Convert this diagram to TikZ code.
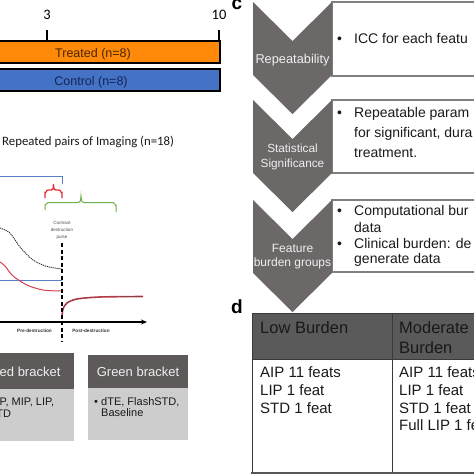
\documentclass[tikz,border=0pt]{standalone}
\usepackage{fontspec}
\setmainfont{Liberation Sans}
\newfontfamily\calfont{Carlito}
\usetikzlibrary{arrows.meta}
\definecolor{barorange}{HTML}{FF8A0A}
\definecolor{barblue}{HTML}{4472C4}
\definecolor{treattext}{HTML}{4A2600}
\definecolor{controltext}{HTML}{14245A}
\definecolor{bracketblue}{HTML}{5B7FC7}
\definecolor{bracketred}{HTML}{E0303A}
\definecolor{bracketgreen}{HTML}{6DB04A}
\definecolor{curvered}{HTML}{D8404E}
\definecolor{chev}{HTML}{6C6868}
\definecolor{hdrgray}{HTML}{5E5A5A}
\definecolor{bodygray}{HTML}{CDCDCD}
\definecolor{hdrtext}{HTML}{EFEFEF}
\definecolor{boxline}{HTML}{808080}
\definecolor{bodytext}{HTML}{1A1A1A}
\definecolor{tblhdr}{HTML}{5A5A5A}
\definecolor{tblline}{HTML}{3A3A3A}
\begin{document}
\begin{tikzpicture}[x=1pt,y=-1pt,
  txt/.style={inner sep=0pt, anchor=base west},
  ctxt/.style={inner sep=0pt, anchor=base},
  barline/.style={line width=2pt, draw=black},
  chevshape/.style={fill=chev},
  cbox/.style={draw=boxline, line width=1.2pt, fill=white},
  ctext/.style={txt, text=bodytext, font=\fontsize{14}{16}\selectfont},
  chevlabel/.style={ctxt, text=hdrtext},
  tiny/.style={ctxt, text=black!70, font=\fontsize{4.5}{5}\selectfont},
  tinybold/.style={ctxt, text=black!80, font=\bfseries\fontsize{4.7}{5}\selectfont},
  hdrlabel/.style={text=hdrtext, font=\fontsize{13}{15}\selectfont},
  bodylabel/.style={txt, text=bodytext, font=\fontsize{11}{12}\selectfont},
  tblhead/.style={txt, text=black!90, font=\fontsize{16.5}{19}\selectfont},
  tblbody/.style={txt, text=bodytext, font=\fontsize{15}{17}\selectfont},
  panellabel/.style={txt, font=\bfseries\fontsize{19}{21}\selectfont}
]
\useasboundingbox (0,0) rectangle (474,474);

% ---------- panel a ----------
\draw[line width=2pt] (47,30) -- (47,41);
\draw[line width=2pt] (219,30) -- (219,41);
\node[ctxt, font=\calfont\fontsize{14.5}{16}\selectfont] (lab3) at (47,19) {3};
\node[ctxt, font=\calfont\fontsize{14.5}{16}\selectfont] (lab10) at (219,19) {10};
\draw[barline, fill=barorange] (-5,41) rectangle (220,63);
\node[ctxt, text=treattext, font=\fontsize{12.5}{15}\selectfont] (treated) at (93,57) {Treated (n=8)};
\draw[barline, fill=barblue] (-5,69) rectangle (220,91);
\node[ctxt, text=controltext, font=\fontsize{12.5}{15}\selectfont] (control) at (91,85) {Control (n=8)};

% ---------- panel b ----------
\node[txt, font=\calfont\fontsize{12.8}{15}\selectfont, text=black!90] (title) at (2,145) {Repeated pairs of Imaging (n=18)};

% brackets
\draw[bracketblue, line width=1pt] (-2,176) -- (62,176) -- (62,184);
\draw[bracketred, line width=1.3pt] (45,198) -- (45,193) to[out=-90,in=180] (48,190) -- (51,190)
  to[out=0,in=-90] (53.5,184) to[out=-90,in=180] (56,190) -- (59,190) to[out=0,in=-90] (62,193) -- (62,198);
\draw[bracketgreen, line width=1pt] (45,210) -- (45,205) to[out=-90,in=180] (48,202.5) -- (78,202.5)
  to[out=0,in=-90] (81,196) to[out=-90,in=180] (84,202.5) -- (113,202.5) to[out=0,in=-90] (116,205.5) -- (116,212);

% pulse label
\node[tiny] (pulse1) at (62,224.5) {Contrast};
\node[tiny] (pulse2) at (62,231.5) {destruction};
\node[tiny] (pulse3) at (62,238.5) {pulse};

% curves
\draw[black!80, line width=0.9pt, dash pattern=on 1.2pt off 0.8pt]
  plot[smooth] coordinates {(0,228) (10,233) (20,247) (33,260) (47,266.5) (62,269)};
\draw[bracketblue, line width=0.9pt] (0,280) -- (62,280);
\draw[curvered, line width=1pt]
  plot[smooth] coordinates {(0,262) (5,266) (13,276) (27,285) (43,290) (62,291)};
\draw[curvered, line width=1.6pt]
  plot[smooth] coordinates {(62,318) (63,309) (67,303) (77,299) (100,297) (143,296.5)};
\draw[black!75, line width=0.8pt, dash pattern=on 1pt off 1pt]
  plot[smooth] coordinates {(62,318) (63,309) (67,303) (77,299) (100,297) (143,296.5)};

% axis and destruction line
\draw[line width=1.2pt, -{Stealth[length=6pt,width=5pt]}] (-2,322) -- (147,322);
\draw[line width=1.8pt, dash pattern=on 4pt off 2.5pt] (62,243) -- (62,342);
\node[tinybold] (pre) at (34.5,332.5) {Pre-destruction};
\node[tinybold] (post) at (91,332.5) {Post-destruction};

% bracket boxes
\fill[hdrgray] (-5,353) rectangle (74,389);
\fill[bodygray] (-5,389) rectangle (74,441);
\node[txt, hdrlabel] (redhdr) at (-0.5,376.5) {ed bracket};
\node[bodylabel] (redl1) at (-0.5,405.5) {P, MIP, LIP,};
\node[bodylabel] (redl2) at (-3.8,417) {TD};

\fill[hdrgray] (88,355) rectangle (188,388);
\fill[bodygray] (88,388) rectangle (188,440);
\node[ctxt, hdrlabel] (greenhdr) at (138,376) {Green bracket};
\node[bodylabel] (greenb) at (94,405) {\textbullet};
\node[bodylabel] (greenl1) at (101,405) {dTE, FlashSTD,};
\node[bodylabel] (greenl2) at (101,416.5) {Baseline};

% ---------- panel c ----------
\node[panellabel] (labc) at (231.5,9.5) {c};

\draw[cbox] (332,2) rectangle (482,76);
\draw[cbox] (332,100) rectangle (482,173);
\draw[cbox] (332,200) rectangle (482,272);

\fill[chevshape] (253,2) -- (292.5,41) -- (332,2) -- (332,75) -- (292.5,114) -- (253,75) -- cycle;
\fill[chevshape] (253,100) -- (292.5,139) -- (332,100) -- (332,173) -- (292.5,212) -- (253,173) -- cycle;
\fill[chevshape] (253,200) -- (292.5,239) -- (332,200) -- (332,273) -- (292.5,312) -- (253,273) -- cycle;

\node[chevlabel, font=\fontsize{12.8}{15}\selectfont] (rep) at (292.5,63) {Repeatability};
\node[chevlabel, font=\fontsize{11.8}{14}\selectfont] (stat1) at (292.5,152) {Statistical};
\node[chevlabel, font=\fontsize{11.8}{14}\selectfont] (stat2) at (292.5,167) {Significance};
\node[chevlabel, font=\fontsize{12}{14}\selectfont] (feat1) at (292.5,252) {Feature};
\node[chevlabel, font=\fontsize{12}{14}\selectfont] (feat2) at (292.5,266) {burden groups};

\node[ctext] (b1a) at (337,43) {\textbullet};
\node[ctext] (b1t) at (354,43) {ICC for each featu};

\node[ctext] (b2a) at (337,117.5) {\textbullet};
\node[ctext] (b2t1) at (354,117.5) {Repeatable param};
\node[ctext] (b2t2) at (354,137.5) {for significant, dura};
\node[ctext] (b2t3) at (354,157.5) {treatment.};

\node[ctext] (b3a) at (337,215) {\textbullet};
\node[ctext] (b3t1) at (354,215) {Computational bur};
\node[ctext] (b3t2) at (354,232) {data};
\node[ctext] (b3b) at (337,248.5) {\textbullet};
\node[ctext] (b3t3) at (354,248.5) {Clinical burden: de};
\node[ctext] (b3t4) at (354,263.5) {generate data};

% ---------- panel d ----------
\node[panellabel] (labd) at (231,313) {d};
\fill[tblhdr] (252,313) rectangle (482,359);
\fill[white] (252,359) rectangle (482,472);
\draw[tblline, line width=1pt] (482,313) -- (252,313) -- (252,472);
\draw[tblline, line width=1pt] (392,313) -- (392,472);
\draw[tblline, line width=1pt] (252,359) -- (482,359);
\draw[tblline!85, line width=2.5pt] (251,473) -- (482,473);

\node[tblhead] (low) at (260,333) {Low Burden};
\node[tblhead] (mod1) at (399,333) {Moderate};
\node[tblhead] (mod2) at (399,353) {Burden};

\node[tblbody] (l1) at (260,377) {AIP 11 feats};
\node[tblbody] (l2) at (260,395) {LIP 1 feat};
\node[tblbody] (l3) at (260,413) {STD 1 feat};
\node[tblbody] (m1) at (399,377) {AIP 11 feats};
\node[tblbody] (m2) at (399,395) {LIP 1 feat};
\node[tblbody] (m3) at (399,413) {STD 1 feat};
\node[tblbody] (m4) at (399,430) {Full LIP 1 fe};
\end{tikzpicture}
\end{document}
